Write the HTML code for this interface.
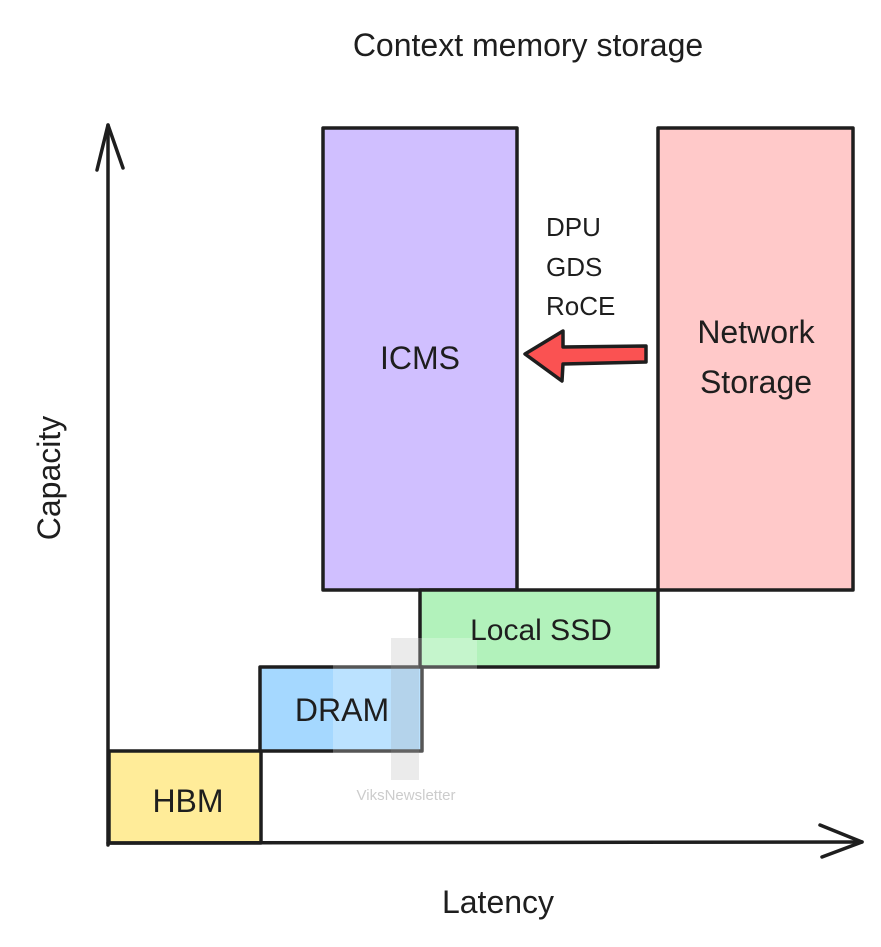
<!DOCTYPE html>
<html><head><meta charset="utf-8"><style>
html,body{margin:0;padding:0;background:#fff;}
svg{display:block;}
text{font-family:"Liberation Sans",sans-serif;fill:#1e1e1e;}
</style></head><body>
<svg width="881" height="947" viewBox="0 0 881 947" xmlns="http://www.w3.org/2000/svg">
<text x="528" y="56" font-size="32" text-anchor="middle">Context memory storage</text>
<g stroke="#1e1e1e" stroke-width="3.5" stroke-linejoin="round" stroke-linecap="round">
<rect x="323" y="128" width="194" height="462" fill="#d0bfff"/>
<rect x="658" y="128" width="195" height="462" fill="#ffc9c9"/>
<rect x="420" y="590" width="238" height="77" fill="#b2f2bb"/>
<rect x="260" y="667" width="162" height="84" fill="#a5d8ff"/>
<rect x="109" y="751" width="152" height="92" fill="#ffec99"/>
<path d="M108 845 L108 125" fill="none"/>
<path d="M97 170 L108 125 L123 168" fill="none"/>
<path d="M108 843 L862 842" fill="none"/>
<path d="M820 825 L862 842 L822 857" fill="none"/>
<path d="M646 346 L563 347 L563 331 L525 354 L562 381 L563 364 L646 362 Z" fill="#fa5252"/>
</g>
<rect x="333" y="638" width="144" height="142" fill="#fff" opacity="0.25"/>
<rect x="391" y="638" width="28" height="142" fill="#999" opacity="0.2"/>
<text x="406" y="800" font-size="15" text-anchor="middle" fill="#ccc" style="fill:#ccc">ViksNewsletter</text>
<text x="420" y="369" font-size="32" text-anchor="middle">ICMS</text>
<text x="756" y="343" font-size="32" text-anchor="middle">Network</text>
<text x="756" y="393" font-size="32" text-anchor="middle">Storage</text>
<text x="546" y="236" font-size="26">DPU</text>
<text x="546" y="276" font-size="26">GDS</text>
<text x="546" y="315" font-size="26">RoCE</text>
<text x="541" y="640" font-size="30" text-anchor="middle">Local SSD</text>
<text x="342" y="721" font-size="32" text-anchor="middle">DRAM</text>
<text x="188" y="812" font-size="32" text-anchor="middle">HBM</text>
<text x="498" y="913" font-size="32" text-anchor="middle">Latency</text>
<text transform="translate(60 478) rotate(-90)" font-size="32" text-anchor="middle">Capacity</text>
</svg>
</body></html>
